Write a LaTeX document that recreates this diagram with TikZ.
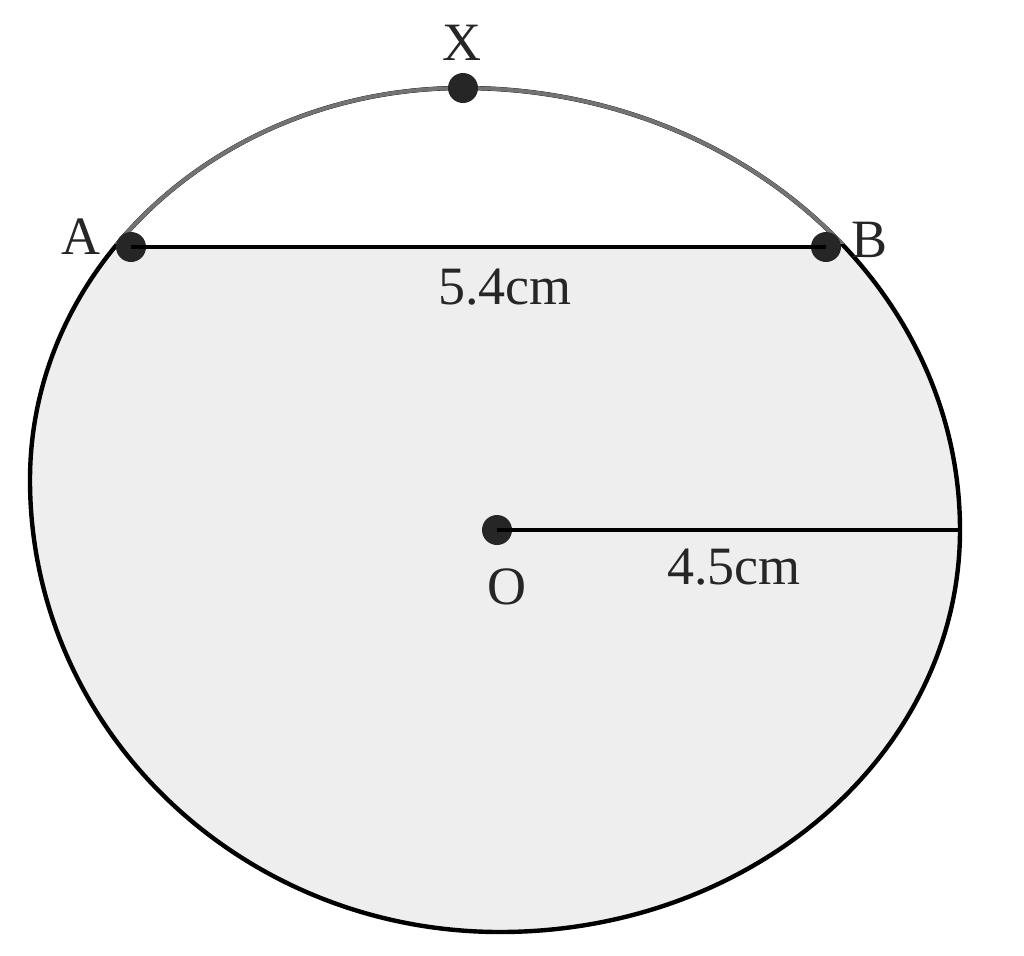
\documentclass[tikz,border=0pt]{standalone}
\usepackage{fontspec}
\setmainfont{Liberation Serif}
\tikzset{
  rim/.style={line width=2.2pt, black},
  toprim/.style={line width=2pt, black!55},
  seg/.style={line width=1.6pt, black},
  pt/.style={circle, fill=black!85, inner sep=0pt, minimum size=15pt},
  lbl/.style={font=\fontsize{27}{31}\selectfont, text=black!85},
}
\begin{document}
\begin{tikzpicture}[x=0.5pt,y=-0.5pt]
\useasboundingbox (0,0) rectangle (1024,955);
% shaded major segment
\begin{scope}
\clip (0,246) rectangle (1024,955);
\fill[gray!13] (463,88) arc[start angle=270, end angle=180, x radius=433, y radius=392]
  arc[start angle=180, end angle=90, x radius=470, y radius=452]
  arc[start angle=90, end angle=0, x radius=460, y radius=402]
  arc[start angle=360, end angle=270, x radius=497, y radius=442] -- cycle;
\end{scope}
% circle outline
\draw[rim] (463,88) arc[start angle=270, end angle=180, x radius=433, y radius=392]
  arc[start angle=180, end angle=90, x radius=470, y radius=452]
  arc[start angle=90, end angle=0, x radius=460, y radius=402]
  arc[start angle=360, end angle=270, x radius=497, y radius=442] -- cycle;
\begin{scope}
\clip (0,0) rectangle (1024,243);
\draw[toprim] (463,88) arc[start angle=270, end angle=180, x radius=433, y radius=392]
  arc[start angle=180, end angle=90, x radius=470, y radius=452]
  arc[start angle=90, end angle=0, x radius=460, y radius=402]
  arc[start angle=360, end angle=270, x radius=497, y radius=442] -- cycle;
\end{scope}
% points
\node[pt] (A) at (131,247) {};
\node[pt] (B) at (826,247) {};
\node[pt] (X) at (463,88) {};
\node[pt] (O) at (497,530) {};
\coordinate (R) at (960,530);
% segments
\draw[seg] (A.center) -- (B.center);
\draw[seg] (O.center) -- (R);
% labels
\node[lbl] (lX) at (462,43) {X};
\node[lbl] (lA) at (81,237) {A};
\node[lbl] (lB) at (870,240) {B};
\node[lbl] (lAB) at (505,287) {5.4cm};
\node[lbl] (lO) at (507,587) {O};
\node[lbl] (lOR) at (734,567) {4.5cm};
\end{tikzpicture}
\end{document}
